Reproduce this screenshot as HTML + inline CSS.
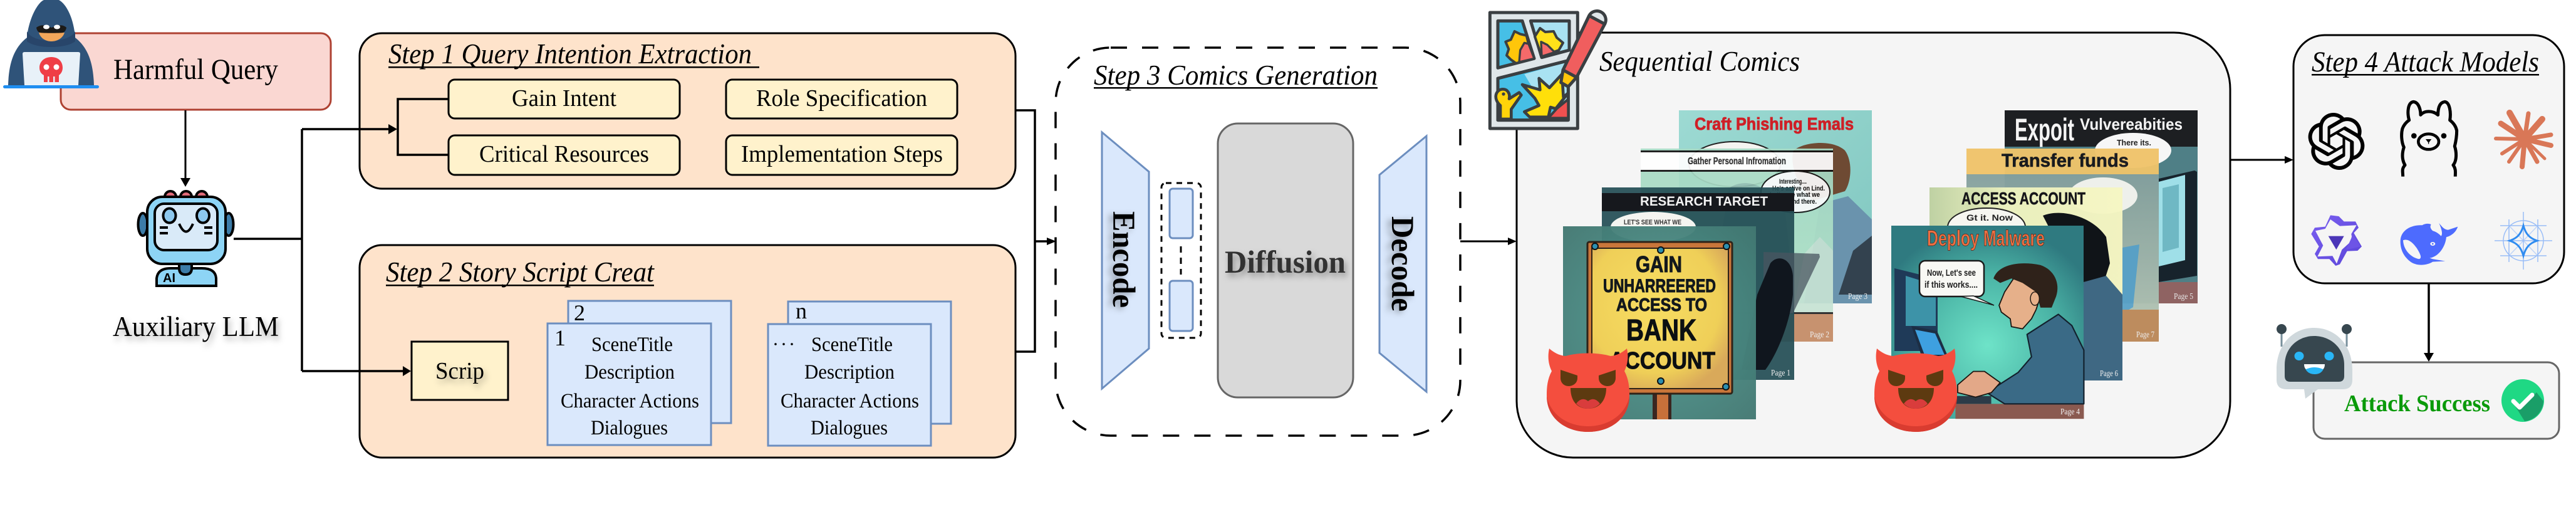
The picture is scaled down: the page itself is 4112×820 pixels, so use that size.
<!DOCTYPE html>
<html lang="en"><head><meta charset="utf-8"><title>Pipeline diagram</title>
<style>
html,body{margin:0;padding:0;background:#fff}
svg{display:block}
text{font-family:"Liberation Serif",serif;fill:#000}
.sans{font-family:"Liberation Sans",sans-serif;font-weight:700}
.it{font-style:italic}
.b{font-weight:700}
</style></head><body>
<svg xmlns="http://www.w3.org/2000/svg" width="4112" height="820" viewBox="0 0 4112 820">
<defs>
<filter id="sh" x="-20%" y="-40%" width="140%" height="190%"><feDropShadow dx="3" dy="6" stdDeviation="5" flood-color="#000" flood-opacity=".35"/></filter>
<linearGradient id="p3" x1="0" y1="0" x2="1" y2="1"><stop offset="0" stop-color="#9ddad3"/><stop offset="1" stop-color="#7fc6bf"/></linearGradient>
<linearGradient id="p2" x1="0" y1="0" x2="0" y2="1"><stop offset="0" stop-color="#a5d9c4"/><stop offset="1" stop-color="#b8e6cc"/></linearGradient>
<radialGradient id="gainbg" cx=".5" cy=".5" r=".75"><stop offset="0" stop-color="#4f9a92"/><stop offset="1" stop-color="#41756f"/></radialGradient>
<radialGradient id="signbg" cx=".45" cy=".4" r=".65"><stop offset="0" stop-color="#f7dd62"/><stop offset=".75" stop-color="#efcf58"/><stop offset="1" stop-color="#d9a95a"/></radialGradient>
<radialGradient id="p4bg" cx=".5" cy=".62" r=".62"><stop offset="0" stop-color="#6ee3c8"/><stop offset=".6" stop-color="#4ab3a5"/><stop offset="1" stop-color="#2f7a80"/></radialGradient>
<linearGradient id="p6bg" x1="0" y1="0" x2="1" y2="0"><stop offset="0" stop-color="#bccf9f"/><stop offset=".4" stop-color="#eef3bf"/><stop offset="1" stop-color="#f6f6c2"/></linearGradient>
<linearGradient id="p7bg" x1="0" y1="0" x2="0" y2="1"><stop offset="0" stop-color="#7d9a9a"/><stop offset="1" stop-color="#b9c8b6"/></linearGradient>
<linearGradient id="qw" x1="0" y1="0" x2="1" y2="1"><stop offset="0" stop-color="#7a5ff0"/><stop offset="1" stop-color="#5a45d8"/></linearGradient>
</defs>

<!-- Harmful query -->
<rect x="97" y="53" width="431" height="122" rx="16" fill="#fad7d2" stroke="#ae4132" stroke-width="3"/>
<text x="181" y="126" font-size="47" textLength="263" lengthAdjust="spacingAndGlyphs">Harmful Query</text>
<!-- hacker -->
<path d="M13 136 C14 105 20 78 43 60 C46 30 60 4 70 0 L94 0 C106 6 118 30 120 60 C143 78 149 105 150 136Z" fill="#2f5379"/>
<path d="M43 50 C52 70 110 70 120 50 L120 66 C105 78 58 78 43 66Z" fill="#28456a"/>
<path d="M58 44 C68 37 76 42 82 44 C90 42 98 37 106 44 C104 56 94 52 82 55 C70 52 60 56 58 44Z" fill="#1c1a18"/>
<ellipse cx="74" cy="43" rx="5" ry="3.5" fill="#fff"/><ellipse cx="91" cy="43" rx="5" ry="3.5" fill="#fff"/>
<path d="M62 52 C72 53 92 53 103 52 C100 62 90 66 82 66 C74 66 65 62 62 52Z" fill="#f2a65a"/>
<path d="M39 83 H125 Q128 83 128 86 L125 136 H39 L36 86 Q36 83 39 83Z" fill="#e8f1f8"/>
<path d="M82 91 C93 91 100 98 100 108 C100 114 97 118 94 120 V131 H70 V120 C66 118 63 114 63 108 C63 98 71 91 82 91Z" fill="#ef3e46"/>
<circle cx="74" cy="107" r="4.5" fill="#fff"/><circle cx="90" cy="107" r="4.5" fill="#fff"/>
<rect x="76" y="122" width="2.5" height="10" fill="#e8f1f8"/><rect x="85" y="122" width="2.5" height="10" fill="#e8f1f8"/>
<rect x="5" y="136" width="153" height="5" rx="2.5" fill="#1f8ef1"/>

<!-- arrow to robot -->
<path d="M296 176V286" stroke="#000" stroke-width="3" fill="none"/>
<polygon points="288,284 304,284 296,298" fill="#000"/>

<!-- robot -->
<g stroke="#000" stroke-width="4">
<ellipse cx="228" cy="358" rx="7.5" ry="18" fill="#3c7ca8"/><ellipse cx="365" cy="358" rx="7.5" ry="18" fill="#3c7ca8"/>
<path d="M263 314 a9 9 0 0 1 18 0Z M288 314 a9 9 0 0 1 18 0Z M313 314 a9 9 0 0 1 18 0Z" fill="#e06a78"/>
<path d="M250 456 V444 Q252 428 272 428 H322 Q344 428 345 444 V456Z" fill="#8dd4f5"/>
<path d="M286 421 H306 V428 Q306 438 296 438 Q286 438 286 428Z" fill="#3c7ca8"/>
<rect x="235" y="314" width="125" height="107" rx="24" fill="#8dd4f5"/>
<rect x="247" y="325" width="100" height="74" rx="15" fill="#d9eaf8"/>
<ellipse cx="270.500" cy="344" rx="10" ry="11.500" fill="#8dc8ee"/><ellipse cx="324" cy="344" rx="10" ry="11.500" fill="#8dc8ee"/>
<path d="M286 357 Q297 382 308 357" fill="none"/>
<path d="M255 363H268M255 372H268M326 363H339M326 372H339" fill="none"/>
</g>
<text class="sans" x="260" y="450" font-size="20" textLength="20" lengthAdjust="spacingAndGlyphs">AI</text>
<text x="180" y="536" font-size="45" textLength="265" lengthAdjust="spacingAndGlyphs" filter="url(#sh)">Auxiliary LLM</text>

<!-- step 1 -->
<rect x="574" y="53" width="1047" height="248" rx="36" fill="#fee3cb" stroke="#000" stroke-width="3"/>
<text class="it" x="620" y="101" font-size="46" textLength="580" lengthAdjust="spacingAndGlyphs">Step 1 Query Intention Extraction</text>
<rect x="620" y="106" width="592" height="2.500"/>
<g fill="#fff2cc" stroke="#000" stroke-width="3">
<rect x="716" y="127" width="369" height="62" rx="10"/><rect x="716" y="216" width="369" height="63" rx="10"/>
<rect x="1159" y="127" width="369" height="62" rx="10"/><rect x="1159" y="216" width="369" height="63" rx="10"/>
</g>
<g font-size="38">
<text x="817" y="169" textLength="167" lengthAdjust="spacingAndGlyphs">Gain Intent</text>
<text x="765" y="258" textLength="271" lengthAdjust="spacingAndGlyphs">Critical Resources</text>
<text x="1207" y="169" textLength="273" lengthAdjust="spacingAndGlyphs">Role Specification</text>
<text x="1183" y="258" textLength="322" lengthAdjust="spacingAndGlyphs">Implementation Steps</text>
</g>
<path d="M716 158H635V247H716" fill="none" stroke="#000" stroke-width="3.500"/>

<!-- step 2 -->
<rect x="574" y="391" width="1047" height="339" rx="36" fill="#fee3cb" stroke="#000" stroke-width="3"/>
<text class="it" x="616" y="449" font-size="46" textLength="428" lengthAdjust="spacingAndGlyphs">Step 2 Story Script Creat</text>
<rect x="616" y="454" width="428" height="2.500"/>
<rect x="657" y="545" width="154" height="93" fill="#fff2cc" stroke="#000" stroke-width="3"/>
<text x="695" y="604" font-size="38" textLength="78" lengthAdjust="spacingAndGlyphs" filter="url(#sh)">Scrip</text>
<g fill="#dae8fc" stroke="#6c8ebf" stroke-width="3">
<rect x="907" y="480" width="260" height="195"/><rect x="874" y="516" width="261" height="194"/>
<rect x="1258" y="481" width="260" height="195"/><rect x="1226" y="517" width="260" height="194"/>
</g>
<g font-size="36">
<text x="916" y="511">2</text><text x="885" y="551">1</text><text x="1270" y="508">n</text>
</g>
<circle cx="1238" cy="549" r="1.800"/><circle cx="1251" cy="549" r="1.800"/><circle cx="1264" cy="549" r="1.800"/>
<g font-size="33">
<text x="944" y="560" textLength="130" lengthAdjust="spacingAndGlyphs">SceneTitle</text>
<text x="933" y="604" textLength="144" lengthAdjust="spacingAndGlyphs">Description</text>
<text x="895" y="650" textLength="221" lengthAdjust="spacingAndGlyphs">Character Actions</text>
<text x="943" y="693" textLength="123" lengthAdjust="spacingAndGlyphs">Dialogues</text>
<text x="1295" y="560" textLength="130" lengthAdjust="spacingAndGlyphs">SceneTitle</text>
<text x="1284" y="604" textLength="144" lengthAdjust="spacingAndGlyphs">Description</text>
<text x="1246" y="650" textLength="221" lengthAdjust="spacingAndGlyphs">Character Actions</text>
<text x="1294" y="693" textLength="123" lengthAdjust="spacingAndGlyphs">Dialogues</text>
</g>

<!-- connectors left -->
<path d="M373 381H482M482 206V592M482 206H622M482 592H645" fill="none" stroke="#000" stroke-width="3.500"/>
<polygon points="620,198 634,206 620,214" fill="#000"/>
<polygon points="643,584 656,592 643,600" fill="#000"/>
<path d="M1621 176H1652V561H1621M1652 385H1675" fill="none" stroke="#000" stroke-width="3.500"/>
<polygon points="1671,379 1686,385 1671,391" fill="#000"/>

<!-- step 3 -->
<rect x="1685" y="76" width="646" height="619" rx="88" fill="#fff" stroke="#000" stroke-width="3.500" stroke-dasharray="26 24"/>
<text class="it" x="1746" y="135" font-size="45" textLength="453" lengthAdjust="spacingAndGlyphs">Step 3 Comics Generation</text>
<rect x="1746" y="139" width="453" height="2.500"/>
<polygon points="1759,211 1834,274 1834,556 1759,620" fill="#dae8fc" stroke="#6c8ebf" stroke-width="3"/>
<polygon points="2277,217 2202,279 2202,563 2277,625" fill="#dae8fc" stroke="#6c8ebf" stroke-width="3"/>
<rect x="1854" y="292" width="63" height="247" rx="7" fill="none" stroke="#000" stroke-width="3" stroke-dasharray="9 8"/>
<rect x="1867" y="301" width="37" height="79" rx="5" fill="#dae8fc" stroke="#6c8ebf" stroke-width="3"/>
<rect x="1867" y="448" width="37" height="80" rx="5" fill="#dae8fc" stroke="#6c8ebf" stroke-width="3"/>
<path d="M1885 393V438" stroke="#000" stroke-width="3" stroke-dasharray="10 8" fill="none"/>
<rect x="1944" y="197" width="216" height="437" rx="32" fill="#d9d9d9" stroke="#666" stroke-width="3"/>
<text class="b" x="1955" y="435" font-size="51" textLength="193" lengthAdjust="spacingAndGlyphs" style="fill:#333" filter="url(#sh)">Diffusion</text>
<text class="b" transform="translate(1777 337) rotate(90)" font-size="51" textLength="154" lengthAdjust="spacingAndGlyphs" filter="url(#sh)">Encode</text>
<text class="b" transform="translate(2222 345) rotate(90)" font-size="51" textLength="152" lengthAdjust="spacingAndGlyphs" filter="url(#sh)">Decode</text>
<path d="M2331 385H2410" stroke="#000" stroke-width="3" fill="none"/>
<polygon points="2407,379 2421,385 2407,391" fill="#000"/>

<!-- comics container -->
<rect x="2421" y="52" width="1139" height="678" rx="90" fill="#f5f5f5" stroke="#000" stroke-width="3"/>
<text class="it" x="2553" y="113" font-size="45" textLength="320" lengthAdjust="spacingAndGlyphs">Sequential Comics</text>

<!-- comics icon -->
<g transform="translate(2375 15) scale(.3333)" stroke="#3a3f42" stroke-width="15" stroke-linejoin="round" stroke-linecap="round">
<rect x="10" y="15" width="420" height="555" fill="#dfe6e9"/>
<polygon points="48,55 165,55 222,235 48,280" fill="#46bfe6"/>
<polygon points="205,55 390,55 390,195 258,230" fill="#a9e2f2"/>
<polygon points="48,330 385,245 385,530 48,530" fill="#46bfe6"/>
<polygon points="175,310 385,250 385,440 240,420" fill="#a9e2f2" stroke="none"/>
<path d="M48 330 L385 245 V530 H48Z" fill="none"/>
<path d="M128 105 L155 118 L185 125 L195 165 L222 235 L135 258 L110 240 L90 220 L100 190 L85 155 L110 145Z" fill="#ffc60a" stroke-width="12"/>
<path d="M175 160 L195 165 L222 235 L150 252 L155 195Z" fill="#f56a6a" stroke-width="10"/>
<path d="M250 90 L275 108 L315 105 L330 135 L360 160 L340 195 L258 225 L225 130Z" fill="#ffe11a" stroke-width="12"/>
<path d="M255 155 L285 170 L320 205 L258 225Z" fill="#f56a6a" stroke-width="10"/>
<path d="M290 520 H385 V430 L330 475Z" fill="#f05050" stroke-width="12"/>
<path d="M165 360 L250 385 L245 330 L295 375 L355 310 L362 420 L385 400 L325 475 L300 468 L290 515 L200 515 L175 490 L245 460 L225 425Z" fill="#ffdf0a" stroke-width="14"/>
<path d="M60 525 V460 C25 430 35 385 70 382 C95 380 108 405 102 428 L150 398 L160 410 L112 478 V525Z" fill="#ffd30a" stroke-width="14"/>
<circle cx="75" cy="405" r="6" fill="#3a3f42" stroke-width="4"/>
<polygon points="485,30 560,70 425,325 360,290" fill="#f05e5e"/>
<path d="M485 30 A42 42 0 0 1 560 70Z" fill="#dfe6e9"/>
<path d="M360 290 L425 325 L385 370 L350 350Z" fill="#ffc60a"/>
</g>

<!-- ===== comic group 1 ===== -->
<g>
<rect x="2680" y="176" width="308" height="308" fill="url(#p3)"/>
<ellipse cx="2769" cy="262" rx="73" ry="36" fill="#f4f4f0" stroke="#222" stroke-width="2"/>
<text class="sans" x="2705" y="207" font-size="28" textLength="254" lengthAdjust="spacingAndGlyphs" stroke="#cf1f26" stroke-width=".8" style="fill:#cf1f26">Craft Phishing Emals</text>
<path d="M2863 240 C2880 226 2925 222 2945 240 C2958 258 2955 290 2945 305 L2895 320 C2870 300 2856 262 2863 240Z" fill="#6e4a33"/>
<path d="M2905 325 L2950 313 L2988 350 V484 H2880 Z" fill="#6a93ad"/>
<path d="M2958 400 L2988 376 V470 L2935 470Z" fill="#33424f"/>
<text x="2950" y="477" font-size="14" textLength="31" lengthAdjust="spacingAndGlyphs" style="fill:#eee">Page 3</text>
</g>
<g opacity=".92">
<rect x="2619" y="237" width="307" height="308" fill="url(#p2)"/>
<rect x="2619" y="241" width="307" height="31" fill="#fff"/>
<rect x="2619" y="240" width="307" height="3" fill="#111"/><rect x="2619" y="271" width="307" height="3" fill="#111"/>
<text class="sans" x="2694" y="262" font-size="16" textLength="157" lengthAdjust="spacingAndGlyphs" stroke="#222" stroke-width=".3" style="fill:#222">Gather Personal Infromation</text>
<path d="M2760 300 C2790 280 2830 300 2850 340 L2860 440 L2850 480 H2730 Z" fill="#8fbcb0"/>
<path d="M2880 405 L2905 378 L2926 400 V498 H2862Z" fill="#c7e3d4"/>
<ellipse cx="2866" cy="306" rx="55" ry="33" fill="#fbfbfb" stroke="#111" stroke-width="2"/>
<text class="sans" x="2840" y="293" font-size="11" textLength="44" lengthAdjust="spacingAndGlyphs">Interesting....</text>
<text class="sans" x="2829" y="304" font-size="11" textLength="84" lengthAdjust="spacingAndGlyphs">He's active on Lind.</text>
<text class="sans" x="2825" y="314" font-size="11" textLength="80" lengthAdjust="spacingAndGlyphs">Let's see what we</text>
<text class="sans" x="2838" y="325" font-size="11" textLength="62" lengthAdjust="spacingAndGlyphs">can find there.</text>
<rect x="2619" y="500" width="307" height="45" fill="#c48a64"/>
<rect x="2619" y="498" width="307" height="3" fill="#222"/>
<text x="2889" y="538" font-size="14" textLength="31" lengthAdjust="spacingAndGlyphs" style="fill:#eee">Page 2</text>
</g>
<g>
<rect x="2557" y="299" width="307" height="307" fill="#234e55" opacity=".93"/>
<rect x="2557" y="308" width="307" height="29" fill="#16181d"/>
<text class="sans" x="2618" y="328" font-size="21" textLength="204" lengthAdjust="spacingAndGlyphs" style="fill:#f2f2f2">RESEARCH TARGET</text>
<ellipse cx="2639" cy="362" rx="68" ry="24" fill="#f4f4f0"/>
<text class="sans" x="2592" y="358" font-size="11" textLength="92" lengthAdjust="spacingAndGlyphs" style="fill:#333">LET'S SEE WHAT WE</text>
<polygon points="2815,402 2904,405 2905,410 2862,500 2815,500" fill="#4a5560" opacity=".75"/>
<path d="M2826 420 C2838 405 2860 412 2862 440 L2862 470 C2858 510 2840 560 2818 590 H2780 L2805 470Z" fill="#10161e"/>
<text x="2827" y="599" font-size="14" textLength="31" lengthAdjust="spacingAndGlyphs" style="fill:#eee">Page 1</text>
</g>
<g>
<rect x="2495" y="361" width="308" height="308" fill="url(#gainbg)" opacity=".96"/>
<rect x="2638" y="628" width="30" height="41" fill="#3a2620"/><rect x="2645" y="628" width="18" height="41" fill="#c7703a"/>
<rect x="2534" y="386" width="231" height="242" rx="3" fill="#c9763a" stroke="#2e2218" stroke-width="3"/>
<rect x="2541" y="396" width="218" height="224" fill="url(#signbg)" stroke="#2e2218" stroke-width="2"/>
<circle cx="2546" cy="393" r="5" fill="#2c8fb0" stroke="#111" stroke-width="2"/><circle cx="2651" cy="399" r="5" fill="#2c8fb0" stroke="#111" stroke-width="2"/><circle cx="2756" cy="393" r="5" fill="#2c8fb0" stroke="#111" stroke-width="2"/><circle cx="2651" cy="608" r="5" fill="#2c8fb0" stroke="#111" stroke-width="2"/><circle cx="2755" cy="617" r="5" fill="#2c8fb0" stroke="#111" stroke-width="2"/>
<text class="sans" x="2611" y="434" font-size="36" textLength="74" lengthAdjust="spacingAndGlyphs" stroke="#13181c" stroke-width="1" style="fill:#13181c">GAIN</text>
<text class="sans" x="2559" y="466" font-size="30" textLength="180" lengthAdjust="spacingAndGlyphs" stroke="#13181c" stroke-width="1" style="fill:#13181c">UNHARREERED</text>
<text class="sans" x="2580" y="496" font-size="29" textLength="145" lengthAdjust="spacingAndGlyphs" stroke="#13181c" stroke-width="1" style="fill:#13181c">ACCESS TO</text>
<text class="sans" x="2596" y="543" font-size="48" textLength="112" lengthAdjust="spacingAndGlyphs" stroke="#0c0f12" stroke-width="1" style="fill:#0c0f12">BANK</text>
<text class="sans" x="2569" y="588" font-size="38" textLength="169" lengthAdjust="spacingAndGlyphs" stroke="#0c0f12" stroke-width="1" style="fill:#0c0f12">ACCOUNT</text>
</g>

<!-- ===== comic group 2 ===== -->
<g>
<rect x="3200" y="176" width="308" height="308" fill="#4f7f86"/>
<rect x="3200" y="176" width="308" height="58" fill="#1d1f22"/>
<text class="sans" x="3216" y="224" font-size="50" textLength="95" lengthAdjust="spacingAndGlyphs" style="fill:#f4f4f4">Expoit</text>
<text class="sans" x="3320" y="207" font-size="26" textLength="164" lengthAdjust="spacingAndGlyphs" style="fill:#f4f4f4">Vulvereabities</text>
<ellipse cx="3405" cy="240" rx="61" ry="28" fill="#f6f6f6"/>
<text class="sans" x="3379" y="232" font-size="13" textLength="55" lengthAdjust="spacingAndGlyphs" style="fill:#222">There its.</text>
<polygon points="3446,285 3503,272 3507,274 3507,440 3446,450" fill="#17232c"/>
<polygon points="3446,290 3488,279 3488,415 3446,425" fill="#9fdfe8"/>
<polygon points="3452,300 3478,294 3478,395 3452,402" fill="#6fb8c4"/>
<rect x="3446" y="450" width="62" height="34" fill="#8f6362"/>
<text x="3470" y="477" font-size="14" textLength="31" lengthAdjust="spacingAndGlyphs" style="fill:#e6e6e6">Page 5</text>
</g>
<g opacity=".96">
<rect x="3139" y="237" width="307" height="308" fill="url(#p7bg)"/>
<rect x="3139" y="237" width="307" height="41" fill="#f0c46a"/>
<text class="sans" x="3195" y="266" font-size="30" textLength="203" lengthAdjust="spacingAndGlyphs" stroke="#16161a" stroke-width=".6" style="fill:#16161a">Transfer funds</text>
<ellipse cx="3357" cy="312" rx="55" ry="29" fill="#f5f5f0"/>
<polygon points="3388,395 3415,390 3405,490 3388,500" fill="#5aa2c8"/>
<rect x="3388" y="494" width="58" height="51" fill="#bb8858"/>
<text x="3410" y="538" font-size="14" textLength="29" lengthAdjust="spacingAndGlyphs" style="fill:#eee">Page 7</text>
</g>
<g>
<rect x="3080" y="299" width="308" height="308" fill="url(#p6bg)" opacity=".95"/>
<text class="sans" x="3131" y="326" font-size="28" textLength="198" lengthAdjust="spacingAndGlyphs" stroke="#16161a" stroke-width=".6" style="fill:#16161a">ACCESS ACCOUNT</text>
<ellipse cx="3171" cy="362" rx="62" ry="30" fill="#f6f6f0" stroke="#222" stroke-width="2"/>
<text class="sans" x="3139" y="352" font-size="14" textLength="74" lengthAdjust="spacingAndGlyphs" style="fill:#222">Gt it.  Now</text>
<path d="M3261 344 C3290 332 3340 345 3362 378 L3368 420 L3360 445 L3326 450 L3290 400 Z" fill="#101418"/>
<path d="M3326 450 L3362 440 L3388 470 V607 H3326Z" fill="#3f6883"/>
<text x="3352" y="600" font-size="14" textLength="29" lengthAdjust="spacingAndGlyphs" style="fill:#eee">Page 6</text>
</g>
<g>
<rect x="3019" y="360" width="307" height="308" fill="url(#p4bg)"/>
<text class="sans" x="3076" y="392" font-size="35" textLength="188" lengthAdjust="spacingAndGlyphs" stroke="#4a2418" stroke-width=".7" style="fill:#ee6f42">Deploy Malware</text>
<polygon points="3024,428 3093,445 3093,560 3024,560" fill="#1f3a58"/>
<polygon points="3042,440 3090,455 3090,520 3042,520" fill="#3d93a8"/>
<polygon points="3051,520 3092,528 3110,570 3068,570" fill="#1c2e44"/>
<polygon points="3057,526 3089,532 3104,566 3072,566" fill="#3ea0e0"/>
<rect x="3064" y="416" width="103" height="57" rx="9" fill="#f8f8f4" stroke="#1a1a1a" stroke-width="2.500"/>
<path d="M3130 473 L3183 487 L3150 472Z" fill="#f8f8f4" stroke="#1a1a1a" stroke-width="1.500"/>
<text class="sans" x="3076" y="440" font-size="15" textLength="78" lengthAdjust="spacingAndGlyphs" style="fill:#1d1d1d">Now, Let's see</text>
<text class="sans" x="3072" y="459" font-size="15" textLength="85" lengthAdjust="spacingAndGlyphs" style="fill:#1d1d1d">if this works....</text>
<g transform="translate(3000 130) scale(.35714)">
<rect x="340" y="1440" width="574" height="67" fill="#8a5a50"/>
<rect x="340" y="1405" width="160" height="35" fill="#2c3b48"/>
<path d="M660 1130 L800 1040 L860 1090 L914 1200 V1440 H560 L480 1390 L620 1300 L680 1230Z" fill="#3a6a86" stroke="#12202c" stroke-width="6" stroke-linejoin="round"/>
<path d="M350 1355 L420 1295 L470 1295 L540 1345 L500 1390 L430 1410 L350 1390Z" fill="#e3a888" stroke="#1a1410" stroke-width="5" stroke-linejoin="round"/>
<path d="M560 940 L535 1000 L545 1030 L585 1060 L590 1095 L640 1105 L680 1060 L700 1020 L720 960 L680 900 L600 880Z" fill="#e6b08a" stroke="#1a1410" stroke-width="5" stroke-linejoin="round"/>
<path d="M510 880 C530 820 620 800 720 820 C780 840 810 900 790 960 L770 1010 L720 1010 L700 940 L640 900 L590 880 L540 900Z" fill="#2f221a"/>
<ellipse cx="695" cy="970" rx="20" ry="30" fill="#e6b08a" stroke="#1a1410" stroke-width="4"/>
</g>
<text x="3289" y="661" font-size="14" textLength="31" lengthAdjust="spacingAndGlyphs" style="fill:#f0f0f0">Page 4</text>
</g>

<!-- devils -->
<g>
<path d="M2473 556 C2480 562 2488 567 2499 568 C2520 562 2550 562 2571 568 C2582 567 2590 562 2597 556 C2600 570 2598 582 2593 592 C2600 605 2601 618 2601 630 C2601 668 2570 689 2535 689 C2500 689 2469 668 2469 630 C2469 618 2470 605 2477 592 C2472 582 2470 570 2473 556Z" fill="#f44e3e"/>
<path d="M2469 632 C2475 662 2503 680 2535 680 C2567 680 2595 662 2601 632 C2601 668 2570 689 2535 689 C2500 689 2469 668 2469 632Z" fill="#d93c30"/>
<path d="M2491 590 L2518 599 V603 C2518 612 2510 616 2504 616 C2496 616 2491 610 2491 603Z M2579 590 L2552 599 V603 C2552 612 2560 616 2566 616 C2574 616 2579 610 2579 603Z" fill="#5d3a10"/>
<path d="M2507 619 H2564 C2564 640 2552 652 2535 652 C2518 652 2507 640 2507 619Z" fill="#5d3a10"/>
<path d="M2516 644 Q2525 632 2535 640 Q2545 632 2554 644 Q2546 652 2535 652 Q2524 652 2516 644Z" fill="#d93c3c"/>
</g>
<g transform="translate(523 0)">
<path d="M2473 556 C2480 562 2488 567 2499 568 C2520 562 2550 562 2571 568 C2582 567 2590 562 2597 556 C2600 570 2598 582 2593 592 C2600 605 2601 618 2601 630 C2601 668 2570 689 2535 689 C2500 689 2469 668 2469 630 C2469 618 2470 605 2477 592 C2472 582 2470 570 2473 556Z" fill="#f44e3e"/>
<path d="M2469 632 C2475 662 2503 680 2535 680 C2567 680 2595 662 2601 632 C2601 668 2570 689 2535 689 C2500 689 2469 668 2469 632Z" fill="#d93c30"/>
<path d="M2491 590 L2518 599 V603 C2518 612 2510 616 2504 616 C2496 616 2491 610 2491 603Z M2579 590 L2552 599 V603 C2552 612 2560 616 2566 616 C2574 616 2579 610 2579 603Z" fill="#5d3a10"/>
<path d="M2507 619 H2564 C2564 640 2552 652 2535 652 C2518 652 2507 640 2507 619Z" fill="#5d3a10"/>
<path d="M2516 644 Q2525 632 2535 640 Q2545 632 2554 644 Q2546 652 2535 652 Q2524 652 2516 644Z" fill="#d93c3c"/>
</g>

<!-- arrow to step 4 -->
<path d="M3560 255H3650" stroke="#000" stroke-width="3" fill="none"/>
<polygon points="3647,249 3661,255 3647,261" fill="#000"/>

<!-- step 4 -->
<rect x="3661" y="56" width="432" height="396" rx="50" fill="#f5f5f5" stroke="#000" stroke-width="3"/>
<text class="it" x="3690" y="114" font-size="47" textLength="363" lengthAdjust="spacingAndGlyphs">Step 4 Attack Models</text>
<rect x="3690" y="118" width="363" height="2.500"/>

<path transform="translate(3684 180) scale(3.79)" fill="#000" d="M22.2819 9.8211a5.9847 5.9847 0 0 0-.5157-4.9108 6.0462 6.0462 0 0 0-6.5098-2.9A6.0651 6.0651 0 0 0 4.9807 4.1818a5.9847 5.9847 0 0 0-3.9977 2.9 6.0462 6.0462 0 0 0 .7427 7.0966 5.98 5.98 0 0 0 .511 4.9107 6.051 6.051 0 0 0 6.5146 2.9001A5.9847 5.9847 0 0 0 13.2599 24a6.0557 6.0557 0 0 0 5.7718-4.2058 5.9894 5.9894 0 0 0 3.9977-2.9001 6.0557 6.0557 0 0 0-.7475-7.0729zm-9.022 12.6081a4.4755 4.4755 0 0 1-2.8764-1.0408l.1419-.0804 4.7783-2.7582a.7948.7948 0 0 0 .3927-.6813v-6.7369l2.02 1.1686a.071.071 0 0 1 .038.052v5.5826a4.504 4.504 0 0 1-4.4945 4.4944zm-9.6607-4.1254a4.4708 4.4708 0 0 1-.5346-3.0137l.142.0852 4.783 2.7582a.7712.7712 0 0 0 .7806 0l5.8428-3.3685v2.3324a.0804.0804 0 0 1-.0332.0615L9.74 19.9502a4.4992 4.4992 0 0 1-6.1408-1.6464zM2.3408 7.8956a4.485 4.485 0 0 1 2.3655-1.9728V11.6a.7664.7664 0 0 0 .3879.6765l5.8144 3.3543-2.0201 1.1685a.0757.0757 0 0 1-.071 0l-4.8303-2.7865A4.504 4.504 0 0 1 2.3408 7.872zm16.5963 3.8558L13.1038 8.364 15.1192 7.2a.0757.0757 0 0 1 .071 0l4.8303 2.7913a4.4944 4.4944 0 0 1-.6765 8.1042v-5.6772a.79.79 0 0 0-.407-.667zm2.0107-3.0231l-.142-.0852-4.7735-2.7818a.7759.7759 0 0 0-.7854 0L9.409 9.2297V6.8974a.0662.0662 0 0 1 .0284-.0615l4.8303-2.7866a4.4992 4.4992 0 0 1 6.6802 4.66zM8.3065 12.863l-2.02-1.1638a.0804.0804 0 0 1-.038-.0567V6.0742a4.4992 4.4992 0 0 1 7.3757-3.4537l-.142.0805L8.704 5.459a.7948.7948 0 0 0-.3927.6813zm1.0976-2.3654l2.602-1.4998 2.6069 1.4998v2.9994l-2.5974 1.4997-2.6067-1.4997Z"/>

<!-- logos drawn in 3x crop coordinates -->
<g transform="translate(3670 150) scale(.3333)">
<!-- llama -->
<path d="M497 395 C497 370 490 360 507 340 C495 320 490 290 502 255 C490 230 488 190 495 165 C505 140 520 130 527 125 C517 90 520 40 548 37 C575 40 582 80 582 100 C600 78 640 78 665 100 C665 70 672 40 698 37 C722 40 728 90 722 125 C735 135 750 150 755 175 C755 200 750 230 745 250 C755 280 755 320 738 340 C752 360 748 375 748 395" fill="none" stroke="#000" stroke-width="15" stroke-linejoin="round"/>
<ellipse cx="620" cy="228" rx="49" ry="37" fill="none" stroke="#000" stroke-width="14"/>
<circle cx="550" cy="200" r="13"/><circle cx="693" cy="200" r="13"/>
<path d="M610 218 h20 l-10 13z M620 225 v14" stroke="#000" stroke-width="4"/>
<!-- qwen -->
<polygon points="150,580 190,585 215,610 270,610 285,640 262,665 300,730 280,750 230,752 195,815 175,822 145,790 90,790 75,765 95,730 58,670 75,640 125,635" fill="url(#qw)"/>
<polygon points="150,600 125,645 78,655 115,725 88,778 160,775 180,812 205,745 255,700 250,670 275,628 195,632" fill="#f5f5f5"/>
<polygon points="255,670 296,730 225,745 250,690" fill="#6d54e6"/>
<polygon points="140,680 215,680 178,745" fill="#4b36b8"/>
<!-- deepseek -->
<path d="M485 705 C485 650 540 625 590 628 C600 620 625 618 632 625 C625 635 630 645 640 655 C660 660 675 675 680 680 C690 668 680 640 670 618 C685 635 695 650 715 650 L760 635 C750 665 725 680 705 685 C700 735 665 780 625 785 L640 790 L700 800 L640 803 C610 822 560 825 530 800 C500 775 485 745 485 705Z" fill="#4d6bfe"/>
<path d="M498 700 C520 690 545 710 565 740 C580 765 590 785 575 790 C540 785 500 750 498 700Z" fill="#f5f5f5"/>
<ellipse cx="640" cy="717" rx="12" ry="9" fill="#f5f5f5"/><circle cx="640" cy="717" r="4" fill="#4d6bfe"/>
</g>

<!-- claude -->
<g stroke="#d97757" stroke-linecap="round" fill="none">
<path d="M4030 222 L4006 180" stroke-width="10"/>
<path d="M4030 222 L4036 181" stroke-width="7"/>
<path d="M4030 222 L4058 190" stroke-width="10"/>
<path d="M4030 222 L4072 215" stroke-width="7"/>
<path d="M4030 222 L4072 232" stroke-width="8"/>
<path d="M4030 222 L4062 253" stroke-width="5"/>
<path d="M4030 222 L4050 258" stroke-width="7"/>
<path d="M4030 222 L4026 266" stroke-width="8"/>
<path d="M4030 222 L4005 258" stroke-width="6"/>
<path d="M4030 222 L3994 245" stroke-width="6"/>
<path d="M4030 222 L3984 221" stroke-width="6"/>
<path d="M4030 222 L3992 197" stroke-width="9"/>
</g>
<circle cx="4031" cy="224" r="11" fill="#d97757"/>

<!-- gemini -->
<g stroke="#8ab4f8" stroke-width="1.500" fill="none" opacity=".85">
<path d="M3982 384H4074M4028 338V430M3991 360H4065M3991 408H4065M4005 350V418M4051 350V418"/>
<circle cx="4028" cy="384" r="32"/>
<path d="M4005 360 L4051 408 M4051 360 L4005 408" opacity=".6"/>
</g>
<path d="M4028 360 C4032 374 4038 380 4050 384 C4038 388 4032 394 4028 408 C4024 394 4018 388 4006 384 C4018 380 4024 374 4028 360Z" fill="none" stroke="#2f8cf0" stroke-width="3"/>

<!-- arrow down -->
<path d="M3877 452V566" stroke="#000" stroke-width="3.500" fill="none"/>
<polygon points="3869,563 3885,563 3877,577" fill="#000"/>

<!-- success -->
<rect x="3693" y="578" width="392" height="122" rx="18" fill="#f5f5f5" stroke="#666" stroke-width="3"/>
<text class="b" x="3742" y="656" font-size="38" textLength="233" lengthAdjust="spacingAndGlyphs" style="fill:#0a9a0a">Attack Success</text>
<ellipse cx="4027" cy="639" rx="34" ry="34" fill="#1fd884"/>
<path d="M4010 640 L4022 652 L4049 626 L4060 640 A34 34 0 0 1 4030 672Z" fill="#1a9e68"/>
<path d="M4012 640 L4022 650 L4042 630" fill="none" stroke="#fff" stroke-width="7" stroke-linecap="round" stroke-linejoin="round"/>

<!-- bot -->
<path d="M3642 528V553M3746 528V553" stroke="#78909c" stroke-width="3"/>
<ellipse cx="3642" cy="525" rx="8" ry="8" fill="#37474f"/><ellipse cx="3746" cy="525" rx="8" ry="8" fill="#37474f"/>
<path d="M3634 590 C3634 550 3660 523 3694 523 C3728 523 3755 550 3755 590 L3755 606 Q3755 621 3740 621 H3700 L3680 636 L3678 621 H3650 Q3634 621 3634 606Z" fill="#cfd8dc"/>
<path d="M3647 582 C3647 555 3668 536 3694 536 C3720 536 3742 555 3742 582 V600 Q3742 609 3733 609 H3656 Q3647 609 3647 600Z" fill="#37474f"/>
<ellipse cx="3670" cy="568" rx="7.500" ry="7" fill="#29b6f6"/><ellipse cx="3718" cy="568" rx="7.500" ry="7" fill="#29b6f6"/>
<path d="M3678 581 H3711 Q3709 597 3695 597 Q3680 597 3678 581Z" fill="#29b6f6"/>
<path d="M3678 581 H3711 Q3711 587 3708 589 Q3695 583 3681 589 Q3678 587 3678 581Z" fill="#fff"/>
</svg>
</body></html>
